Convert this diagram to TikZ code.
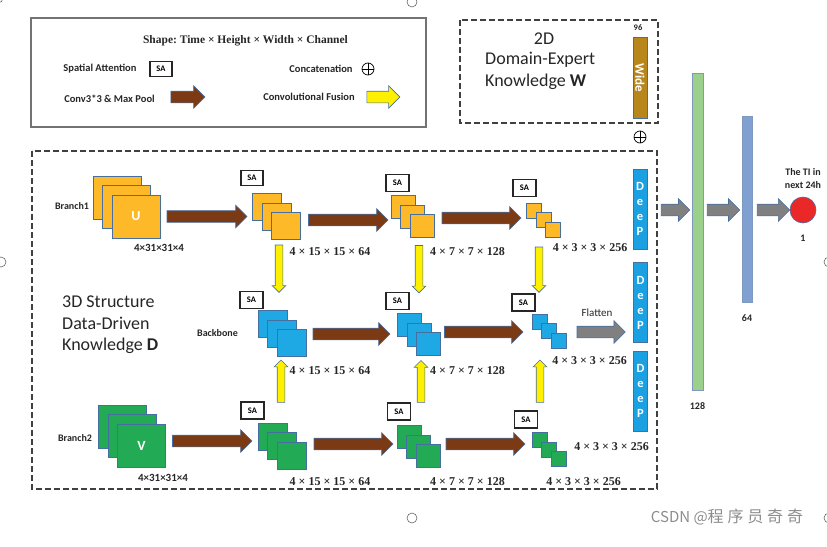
\documentclass[tikz,border=0pt]{standalone}
\usepackage{amsmath}
\usepackage{fontspec}
\newfontfamily\calib{Carlito}
\newfontfamily\serifb{Liberation Serif}
\newfontfamily\cjk{Noto Sans CJK SC}
\newfontfamily\cjkwide{Noto Sans CJK SC}[LetterSpace=24]
\usetikzlibrary{shapes.arrows,calc,positioning}

\definecolor{mapOrange}{RGB}{253,185,39}
\definecolor{mapBlue}{RGB}{30,168,228}
\definecolor{mapGreen}{RGB}{35,170,85}
\definecolor{convBrown}{RGB}{124,58,20}
\definecolor{fuseYellow}{RGB}{255,240,0}
\definecolor{edgeBlue}{RGB}{70,110,160}
\definecolor{deepBlue}{RGB}{27,161,226}
\definecolor{wideGold}{RGB}{184,134,27}
\definecolor{fcGreen}{RGB}{155,208,140}
\definecolor{fcBlue}{RGB}{128,160,210}
\definecolor{outRed}{RGB}{235,40,40}
\definecolor{flatGray}{RGB}{128,128,128}

% block arrow from tail point to tip point
\newcommand\blockarrow[3]{%
  \path let \p1=#2, \p2=#3,
    \n1={veclen(\x2-\x1,\y2-\y1)}, \n2={atan2(\y2-\y1,\x2-\x1)} in
    node[#1, minimum height=\n1, rotate=\n2, anchor=tail] at (\p1) {};}

\begin{document}
\begin{tikzpicture}[x=1pt, y=-1pt, font=\calib,
    fmap/.style={draw=edgeBlue, line width=0.6pt, inner sep=0pt, outer sep=0pt,
      text=white, font=\calib\bfseries\fontsize{14}{14}\selectfont},
    mapA/.style={fmap, minimum width=48, minimum height=43},
    mapB/.style={fmap, minimum width=29, minimum height=27},
    mapC/.style={fmap, minimum width=24, minimum height=23},
    mapD/.style={fmap, minimum width=15, minimum height=15},
    sabox/.style={draw=black!85, line width=1.3pt, minimum width=23, minimum height=17,
      inner sep=0pt, font=\calib\bfseries\fontsize{8.5}{8.5}\selectfont},
    blockarr/.style={single arrow, draw=edgeBlue, line width=0.6pt, outer sep=0pt,
      single arrow head indent=0pt},
    convarrow/.style={blockarr, fill=convBrown, inner sep=5.5pt, single arrow head extend=5.5pt},
    fusearrow/.style={blockarr, fill=fuseYellow, inner sep=3.5pt, single arrow head extend=3pt},
    flatarrow/.style={blockarr, fill=flatGray, inner sep=5.5pt, single arrow head extend=5.5pt},
    lbl/.style={font=\calib\bfseries\fontsize{10}{12}\selectfont, text=black!85, inner sep=0pt},
    dimlbl/.style={font=\serifb\bfseries\fontsize{12}{12}\selectfont, text=black!85, inner sep=0pt},
    bigtxt/.style={font=\calib\fontsize{18}{21.5}\selectfont, text=black!85, inner sep=0pt},
    deep/.style={fill=deepBlue, draw=edgeBlue, line width=0.5pt, minimum width=14,
      minimum height=80, inner sep=0pt, text=white, align=center,
      font=\calib\bfseries\fontsize{12.5}{15}\selectfont},
    dashbox/.style={draw=black!75, line width=1.3pt, dash pattern=on 6pt off 3pt},
    oplus/.style={draw, circle, minimum size=12, inner sep=0pt, line width=0.7pt}]
    \useasboundingbox (0,0) rectangle (827,546);

    % legend
    \draw[black!55, line width=1.2pt] (31,18) rectangle (426,127);
    \node[dimlbl, font=\serifb\bfseries\fontsize{11.5}{12}\selectfont] (shape) at (245.5,41)
        {Shape:~Time × Height × Width × Channel};
    \node[lbl, font=\calib\bfseries\fontsize{10.5}{12}\selectfont] (keysatxt) at (100,69) {Spatial Attention};
    \node[sabox, minimum width=22, minimum height=15] (keysa) at (161,69) {SA};
    \node[lbl, font=\calib\bfseries\fontsize{10.5}{12}\selectfont] (keycattxt) at (321,69) {Concatenation};
    \node[oplus] (keycat) at (368,69) {};
    \draw[line width=0.7pt] (keycat.north) -- (keycat.south) (keycat.west) -- (keycat.east);
    \node[lbl, font=\calib\bfseries\fontsize{10.5}{12}\selectfont] (keyconvtxt) at (109.5,99) {Conv3*3 \& Max Pool};
    \node[convarrow, minimum height=34] (keyconv) at (185,97) {};
    \node[lbl, font=\calib\bfseries\fontsize{10.5}{12}\selectfont] (keyfusetxt) at (309,97) {Convolutional Fusion};
    \node[blockarr, fill=fuseYellow, inner sep=5.5pt, single arrow head extend=5.5pt,
        minimum height=33] (keyfuse) at (380.5,97) {};

    % wide part
    \draw[dashbox] (460,20) rectangle (658,123);
    \node[bigtxt] (w2d) at (544,39) {2D};
    \node[bigtxt, align=left, anchor=west] (wtxt) at (485,71) {Domain-Expert\\Knowledge \textbf{W}};
    \node[fill=wideGold, draw=edgeBlue, line width=0.6pt, minimum width=81, minimum height=14,
        inner sep=0pt, rotate=-90, text=white, font=\calib\bfseries\fontsize{13}{13}\selectfont]
        (wide) at (640,77.5) {Wide};
    \node[lbl, font=\calib\bfseries\fontsize{8.5}{10}\selectfont] (w96) at (638,28) {96};
    \node[oplus] (cat) at (640,137) {};
    \draw[line width=0.7pt] (cat.north) -- (cat.south) (cat.west) -- (cat.east);

    % deep part
    \draw[dashbox] (32,151) rectangle (657,489);
    \node[bigtxt, align=left, anchor=west] (dtxt) at (62,325)
        {3D Structure\\Data-Driven\\Knowledge \textbf{D}};

    \foreach \nm/\st/\col/\x/\y/\lab in {
        U/mapA/mapOrange/136/216.5/U, s1/mapB/mapOrange/286/226/{}, s2/mapC/mapOrange/422/226/{},
        s3/mapD/mapOrange/553/229.5/{}, b1/mapB/mapBlue/291.5/343/{}, b2/mapC/mapBlue/428.5/344/{},
        b3/mapD/mapBlue/558.5/340.5/{}, V/mapA/mapGreen/141.5/445.5/V, g1/mapB/mapGreen/291.5/455.5/{},
        g2/mapC/mapGreen/428/456/{}, g3/mapD/mapGreen/558.5/459/{}}
    {
        \node[\st, fill=\col] (\nm-a) at (\x-19,\y-19) {};
        \node[\st, fill=\col] (\nm-b) at (\x-9.5,\y-9.5) {};
        \node[\st, fill=\col] (\nm) at (\x,\y) {\lab};
    }

    \node[sabox, minimum width=22, minimum height=15] (sas1) at (252,178) {SA};
    \node[sabox] (sas2) at (397.5,183) {SA};
    \node[sabox] (sas3) at (524.5,188) {SA};
    \node[sabox] (sab1) at (251.5,300) {SA};
    \node[sabox] (sab2) at (397.5,301) {SA};
    \node[sabox] (sab3) at (523.5,302.5) {SA};
    \node[sabox] (sag1) at (252.5,410.5) {SA};
    \node[sabox] (sag2) at (399,411.5) {SA};
    \node[sabox] (sag3) at (526,419.5) {SA};

    \node[lbl] (branch1) at (72,206) {Branch1};
    \node[lbl] (backbone) at (217.5,333) {Backbone};
    \node[lbl] (branch2) at (75,438) {Branch2};
    \node[lbl, font=\calib\bfseries\fontsize{11}{12}\selectfont] (dU) at (159,248) {4×31×31×4};
    \node[lbl, font=\calib\bfseries\fontsize{11}{12}\selectfont] (dV) at (163,478) {4×31×31×4};
    \node[dimlbl] (ds1) at (330,252) {4 × 15 × 15 × 64};
    \node[dimlbl] (ds2) at (467.5,252) {4 × 7 × 7 × 128};
    \node[dimlbl] (ds3) at (590,248) {4 × 3 × 3 × 256};
    \node[dimlbl] (db1) at (330,371) {4 × 15 × 15 × 64};
    \node[dimlbl] (db2) at (467.5,371) {4 × 7 × 7 × 128};
    \node[dimlbl] (db3) at (589.5,361) {4 × 3 × 3 × 256};
    \node[dimlbl] (dg1) at (330,482) {4 × 15 × 15 × 64};
    \node[dimlbl] (dg2) at (467.5,482) {4 × 7 × 7 × 128};
    \node[dimlbl] (dg3) at (583.5,482) {4 × 3 × 3 × 256};
    \node[dimlbl] (dg3r) at (611.5,447) {4 × 3 × 3 × 256};

    % conv + pool
    \blockarrow{convarrow}{($(U.east)+(7,0)$)}{($(U.east -| s1-a.west)+(-5.5,0)$)}
    \blockarrow{convarrow}{($(s1.east)+(8,-6)$)}{($(s1.east -| s2-a.west)+(-3,-6)$)}
    \blockarrow{convarrow}{($(s2.east)+(8,-8)$)}{($(s2.east -| s3-a.west)+(-5.5,-8)$)}
    \blockarrow{convarrow}{($(b1.east)+(7,-9)$)}{($(b1.east -| b2-a.west)+(-7.5,-9)$)}
    \blockarrow{convarrow}{($(b2.east)+(4,-12)$)}{($(b2.east -| b3-a.west)+(-9,-12)$)}
    \blockarrow{convarrow}{($(V.east)+(7,-4.5)$)}{($(V.east -| g1-a.west)+(-6,-4.5)$)}
    \blockarrow{convarrow}{($(g1.east)+(8,-11.5)$)}{($(g1.east -| g2-a.west)+(-4,-11.5)$)}
    \blockarrow{convarrow}{($(g2.east)+(6,-12)$)}{($(g2.east -| g3-a.west)+(-7,-12)$)}

    % fusion
    \blockarrow{fusearrow}{($(s1.south)+(-7,5.5)$)}{($(s1.south |- sab1.north)+(-7,1.5)$)}
    \blockarrow{fusearrow}{($(s2.south)+(-3,8)$)}{($(s2.south |- sab2.north)+(-3,1)$)}
    \blockarrow{fusearrow}{($(s3.south)+(-14,10)$)}{($(s3.south |- sab3.north)+(-14,-1)$)}
    \blockarrow{fusearrow}{($(b1.south |- sag1.north)+(-10.5,1)$)}{($(b1.south)+(-10.5,3.5)$)}
    \blockarrow{fusearrow}{($(b2.south |- sag2.north)+(-7.5,0)$)}{($(b2.south)+(-7.5,5)$)}
    \blockarrow{fusearrow}{($(b3.south |- sag3.north)+(-18.5,-8)$)}{($(b3.south)+(-18.5,12)$)}

    % deep + wide output
    \node[deep] (deep1) at (640,209) {D\\e\\e\\P};
    \node[deep] (deep2) at (640.5,302.5) {D\\e\\e\\P};
    \node[deep] (deep3) at (640.5,391) {D\\e\\e\\P};
    \node[font=\calib\fontsize{11}{12}\selectfont, text=black!85, inner sep=0pt] (flat) at (597,313) {Flatten};
    \blockarrow{flatarrow}{($(b3.east)+(11,-8.5)$)}{($(b3.east -| deep2.west)+(-8,-8.5)$)}

    \node[fill=fcGreen, draw=edgeBlue!70, line width=0.5pt, minimum width=11, minimum height=317,
        inner sep=0pt] (fc1) at (697.5,231.5) {};
    \node[fill=fcBlue, draw=edgeBlue!70, line width=0.5pt, minimum width=10, minimum height=186,
        inner sep=0pt] (fc2) at (747,209) {};
    \node[circle, fill=outRed, draw=edgeBlue, line width=0.6pt, minimum size=26, inner sep=0pt]
        (out) at (803,210) {};
    \blockarrow{flatarrow}{($(deep1.east |- out.west)+(14,0)$)}{($(fc1.west |- out.west)+(-2,0)$)}
    \blockarrow{flatarrow}{($(fc1.east |- out.west)+(4,0)$)}{($(fc2.west |- out.west)+(-2,0)$)}
    \blockarrow{flatarrow}{($(fc2.east |- out.west)+(5,0)$)}{(out.west)}

    \node[lbl, below=12pt of fc1] (n128) {128};
    \node[lbl, below=12pt of fc2] (n64) {64};
    \node[lbl, below=12pt of out] (n1) {1};
    \node[lbl, align=center, font=\calib\bfseries\fontsize{10}{13}\selectfont, above=8pt of out] (ti)
        {The TI in\\next 24h};

    % screenshot handles and mark
    \foreach \p in {(412,2),(412,518),(1,262),(829,262),(829,518),(-2,-2)}
        \draw[black!60, line width=0.6pt] \p circle[radius=5pt];
    \node[text=black!45, inner sep=0pt] (mark) at (727,517)
        {\cjk\fontsize{15}{15}\selectfont CSDN @\cjkwide\fontsize{16}{16}\selectfont 程序员奇奇};
\end{tikzpicture}
\end{document}
